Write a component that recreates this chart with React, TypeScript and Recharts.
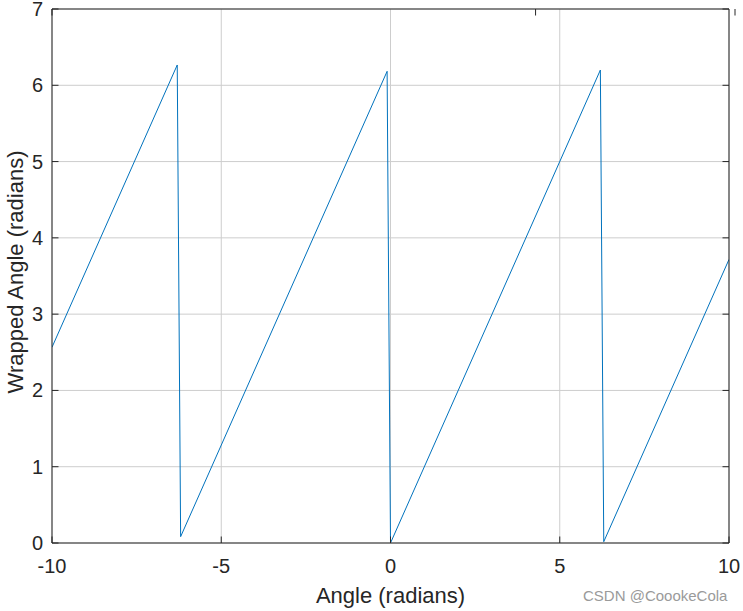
import React from 'react';
import { LineChart, Line, XAxis, YAxis, CartesianGrid } from 'recharts';

// vertices of the wrapped-angle sawtooth
const angles = [-10, -6.3, -6.2, -0.1, 0, 6.2, 6.3, 10];
const wrapped = [2.566, 6.266, 0.083, 6.183, 0, 6.2, 0.017, 3.717];

const xTicks = [-10, -5, 0, 5, 10];
const yTicks = [0, 1, 2, 3, 4, 5, 6, 7];

const data = angles.map((a, i) => ({ angle: a, wrapped: wrapped[i] }));

const FONT = '"Liberation Sans", Arial, sans-serif';
const INK = '#262626';
const TICK_LEN = 6.5;

const BottomTick = (props: any) => {
  const { x, y, payload } = props;
  return (
    <g>
      <line x1={x} y1={y} x2={x} y2={y - TICK_LEN} stroke={INK} strokeWidth={1} />
      <text x={x} y={y + 30} textAnchor="middle" fontSize={20} fontFamily={FONT} fill={INK}>
        {payload.value}
      </text>
    </g>
  );
};

const TopTick = (props: any) => {
  const { x, y } = props;
  return <line x1={x} y1={y} x2={x} y2={y + TICK_LEN} stroke={INK} strokeWidth={1} />;
};

const LeftTick = (props: any) => {
  const { x, y, payload } = props;
  return (
    <g>
      <line x1={x} y1={y} x2={x + TICK_LEN} y2={y} stroke={INK} strokeWidth={1} />
      <text x={x - 9} y={y} textAnchor="end" dominantBaseline="central" fontSize={20} fontFamily={FONT} fill={INK}>
        {payload.value}
      </text>
    </g>
  );
};

const RightTick = (props: any) => {
  const { x, y } = props;
  return <line x1={x} y1={y} x2={x - TICK_LEN} y2={y} stroke={INK} strokeWidth={1} />;
};

const YLabel = (props: any) => {
  const { x, y, height } = props.viewBox;
  const cx = x + 15;
  const cy = y + height / 2 - 4;
  return (
    <text
      x={cx}
      y={cy}
      transform={`rotate(-90 ${cx} ${cy})`}
      textAnchor="middle"
      dominantBaseline="central"
      fontSize={22}
      fontFamily={FONT}
      fill={INK}
    >
      Wrapped Angle (radians)
    </text>
  );
};

const XLabel = (props: any) => {
  const { x, y, width, height } = props.viewBox;
  return (
    <text x={x + width / 2} y={y + height - 8} textAnchor="middle" fontSize={22} fontFamily={FONT} fill={INK}>
      Angle (radians)
    </text>
  );
};

export default function App() {
  return (
    <div style={{ position: 'absolute', left: 0, top: 0, width: 743, height: 611, background: '#fff' }}>
      <LineChart width={743} height={611} data={data} margin={{ top: 0, right: 0, bottom: 0, left: 0 }}>
        <CartesianGrid stroke="#cdcdcd" strokeWidth={1} />
        <XAxis
          dataKey="angle"
          type="number"
          domain={[-10, 10]}
          ticks={xTicks}
          height={68}
          tickSize={0}
          tickMargin={0}
          tickLine={false}
          axisLine={{ stroke: INK, strokeWidth: 1 }}
          tick={<BottomTick />}
          label={<XLabel />}
          allowDataOverflow
        />
        <XAxis
          xAxisId="top"
          orientation="top"
          type="number"
          domain={[-10, 10]}
          ticks={xTicks}
          height={9}
          tickSize={0}
          tickMargin={0}
          tickLine={false}
          axisLine={{ stroke: INK, strokeWidth: 1 }}
          tick={<TopTick />}
          allowDataOverflow
        />
        <YAxis
          type="number"
          domain={[0, 7]}
          ticks={yTicks}
          width={52}
          tickSize={0}
          tickMargin={0}
          tickLine={false}
          axisLine={{ stroke: INK, strokeWidth: 1 }}
          tick={<LeftTick />}
          label={<YLabel />}
          allowDataOverflow
        />
        <YAxis
          yAxisId="right"
          orientation="right"
          type="number"
          domain={[0, 7]}
          ticks={yTicks}
          width={14}
          tickSize={0}
          tickMargin={0}
          tickLine={false}
          axisLine={{ stroke: INK, strokeWidth: 1 }}
          tick={<RightTick />}
          allowDataOverflow
        />
        <Line
          dataKey="wrapped"
          type="linear"
          stroke="#0072BD"
          strokeWidth={1}
          dot={false}
          isAnimationActive={false}
        />
      </LineChart>
      <div
        style={{
          position: 'absolute',
          left: 583,
          top: 587,
          fontFamily: FONT,
          fontSize: 15,
          color: '#9a9a9a',
          whiteSpace: 'nowrap',
          lineHeight: '18px',
        }}
      >
        CSDN @CoookeCola
      </div>
    </div>
  );
}
